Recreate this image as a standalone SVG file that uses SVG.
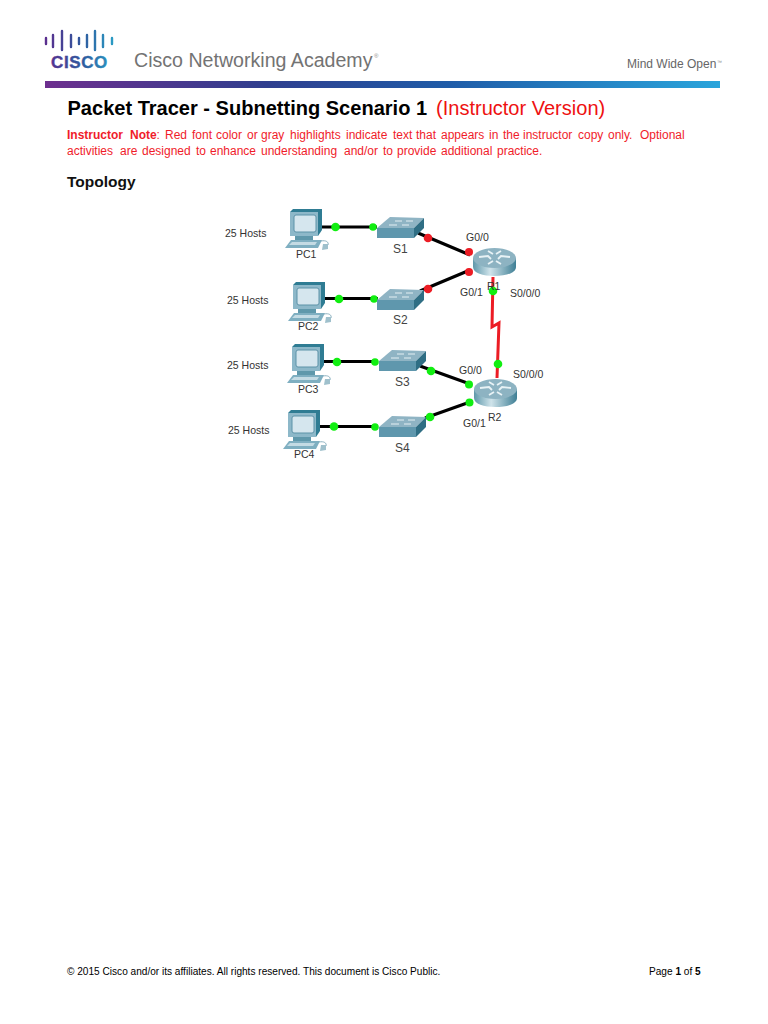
<svg xmlns="http://www.w3.org/2000/svg" width="768" height="1024" viewBox="0 0 768 1024">
<style>
text{font-family:"Liberation Sans",Arial,sans-serif}
.lab{font-size:10.500px;fill:#333}
.big{font-size:12px;fill:#444}
.note{font-size:12px;fill:#f01c2a}
.cab{stroke:#000;stroke-width:3.200;fill:none}
.ok{fill:#11ee11}
.dn{fill:#ec1c24}
</style>
<defs>
<linearGradient id="bar" x1="0" x2="1" y1="0" y2="0"><stop offset="0" stop-color="#6d2f8f"/><stop offset=".33" stop-color="#2f3f8f"/><stop offset=".6" stop-color="#1f5ca8"/><stop offset="1" stop-color="#2aa5dc"/></linearGradient>
<linearGradient id="logo" gradientUnits="userSpaceOnUse" x1="45" y1="0" x2="113" y2="0"><stop offset="0" stop-color="#5b2d8e"/><stop offset=".55" stop-color="#2f5a9e"/><stop offset="1" stop-color="#2a9bc4"/></linearGradient>
<linearGradient id="rt" x1="0" x2="1" y1="0" y2="0"><stop offset="0" stop-color="#5f98ab"/><stop offset=".4" stop-color="#cfe3ea"/><stop offset="1" stop-color="#3f7f95"/></linearGradient>
<g id="pc">
<path d="M5 3 8 0H37V21L33 27H5Z" fill="#2f7c93"/>
<path d="M5 3H33V27H5Z" fill="#8db8c9"/>
<rect x="9" y="6" width="22" height="17" rx="2" fill="#d5e6ee" stroke="#5d93a8"/>
<path d="M10 27H28V31H10Z" fill="#5f98ab"/>
<path d="M6 31H37L33 39H0Z" fill="#7fafc1"/>
<path d="M7 33H32L30 36H4Z" fill="#c4dbe4"/>
<path d="M36 32C41 31 44 33 43 36" fill="none" stroke="#8fb4c2"/>
<path d="M38 35H43V40L37 41Z" fill="#9fc0cc"/>
</g>
<g id="sw">
<path d="M0 11 13 0 47 1 37 11Z" fill="#8fb4c4"/>
<path d="M0 11H37V21H0Z" fill="#5f97ad"/>
<path d="M37 11 47 1V11L37 21Z" fill="#2f6e84"/>
<path d="M12 8H20M29 4H36M18 4H25M25 8H32" stroke="#e3eff3" stroke-width="1"/>
</g>
<g id="rtr">
<path d="M0 10V19C0 25 10 28 21.500 28S43 25 43 19V10Z" fill="url(#rt)"/>
<ellipse cx="21.500" cy="10" rx="21.500" ry="10" fill="#8db3c2"/>
<path d="M6 9 15 8 18 11M37 9 28 8 25 11M15 3 20 6M28 3 23 6M15 16 20 13M28 16 23 13" stroke="#e8f2f5" stroke-width="1.800" fill="none"/>
</g>
</defs>
<rect width="768" height="1024" fill="#fff"/>
<g id="header">
<path d="M46 38V44M53 35V47M62 31V50M71 35V47M79 38V44M87 35V47M95 31V50M103 35V47M112 38V44" stroke="url(#logo)" stroke-width="2.400" stroke-linecap="round" fill="none"/>
<text x="51" y="67.500" font-size="17" font-weight="bold" letter-spacing=".6" stroke="url(#logo)" stroke-width=".4" fill="url(#logo)">CISCO</text>
<text x="134" y="67" font-size="19.600" fill="#737373">Cisco Networking Academy</text>
<text x="374" y="58" font-size="6" fill="#8a8a8a">®</text>
<text x="627" y="68" font-size="12" fill="#666">Mind Wide Open</text>
<text x="717" y="64" font-size="5" fill="#888">™</text>
<rect x="45" y="81" width="675" height="7" fill="url(#bar)"/>
</g>
<g id="title-block">
<text x="67.500" y="115" font-size="20.050" font-weight="bold" fill="#000">Packet Tracer - Subnetting Scenario 1 <tspan x="436" font-weight="normal" fill="#ee1111">(Instructor Version)</tspan></text>
<text y="139" class="note"><tspan x="67" font-weight="bold">Instructor</tspan> <tspan x="130" font-weight="bold">Note</tspan><tspan x="156.500">:</tspan> <tspan x="165">Red</tspan> <tspan x="192">font</tspan> <tspan x="216">color</tspan> <tspan x="247">or</tspan> <tspan x="261">gray</tspan> <tspan x="290">highlights</tspan> <tspan x="346">indicate</tspan> <tspan x="393">text</tspan> <tspan x="416">that</tspan> <tspan x="441">appears</tspan> <tspan x="489">in</tspan> <tspan x="503">the</tspan> <tspan x="523">instructor</tspan> <tspan x="578">copy</tspan> <tspan x="608">only.</tspan> <tspan x="640">Optional</tspan></text>
<text y="155" class="note"><tspan x="67">activities</tspan> <tspan x="120">are</tspan> <tspan x="142">designed</tspan> <tspan x="196">to</tspan> <tspan x="210">enhance</tspan> <tspan x="261">understanding</tspan> <tspan x="344">and/or</tspan> <tspan x="383">to</tspan> <tspan x="397">provide</tspan> <tspan x="441">additional</tspan> <tspan x="497">practice.</tspan></text>
<text x="67" y="187" font-size="15.500" font-weight="bold" fill="#111">Topology</text>
</g>
<g id="connectors">
<path class="cab" d="M320 227H377M323 298.500H378M323 361.500H378M318 426.500H378M418 233 470 255M420 291 470 270M420 366 470 384M425 418 470 402"/>
<path d="M493 277 492 327 499 323 497 378" fill="none" stroke="#ec1c24" stroke-width="3"/>
<g class="ok">
<circle cx="335.500" cy="227" r="4.300"/><circle cx="373" cy="227" r="3.800"/>
<circle cx="339" cy="299" r="4.300"/><circle cx="374" cy="299" r="3.800"/>
<circle cx="337" cy="362" r="4.300"/><circle cx="375" cy="362" r="3.800"/>
<circle cx="334" cy="426.500" r="4.300"/><circle cx="375" cy="427" r="3.800"/>
<circle cx="431" cy="371" r="4.300"/><circle cx="469" cy="384.500" r="4"/>
<circle cx="430" cy="417" r="4.300"/><circle cx="469.500" cy="402.500" r="4"/>
<circle cx="493" cy="291" r="4.300"/><circle cx="498" cy="364" r="4.300"/>
</g>
<g class="dn">
<circle cx="428" cy="238" r="4.300"/><circle cx="469" cy="252" r="4"/>
<circle cx="428" cy="289" r="4.300"/><circle cx="469" cy="272" r="4"/>
</g>
</g>
<g id="PC1"><use href="#pc" x="285" y="209"/><text class="lab" x="296" y="258">PC1</text></g>
<g id="PC2"><use href="#pc" x="288" y="282"/><text class="lab" x="298" y="330">PC2</text></g>
<g id="PC3"><use href="#pc" x="287" y="344"/><text class="lab" x="298" y="393">PC3</text></g>
<g id="PC4"><use href="#pc" x="283" y="410"/><text class="lab" x="294" y="458">PC4</text></g>
<g id="S1"><use href="#sw" x="377" y="217"/><text class="big" x="393" y="253">S1</text></g>
<g id="S2"><use href="#sw" x="377" y="289"/><text class="big" x="393" y="324">S2</text></g>
<g id="S3"><use href="#sw" x="379" y="350"/><text class="big" x="395" y="386">S3</text></g>
<g id="S4"><use href="#sw" x="379" y="416"/><text class="big" x="395" y="452">S4</text></g>
<g id="R1"><use href="#rtr" x="473" y="248"/><text class="lab" x="487" y="290">R1</text></g>
<g id="R2"><use href="#rtr" x="474" y="379"/><text class="lab" x="488" y="421">R2</text></g>
<g id="labels">
<text class="lab" x="225" y="237">25 Hosts</text>
<text class="lab" x="227" y="304">25 Hosts</text>
<text class="lab" x="227" y="369">25 Hosts</text>
<text class="lab" x="228" y="434">25 Hosts</text>
<text class="lab" x="466" y="241">G0/0</text>
<text class="lab" x="460" y="296">G0/1</text>
<text class="lab" x="510" y="297">S0/0/0</text>
<text class="lab" x="459" y="374">G0/0</text>
<text class="lab" x="513" y="378">S0/0/0</text>
<text class="lab" x="463" y="427">G0/1</text>
</g>
<g id="footer">
<text x="67" y="975" font-size="10.100" fill="#000">© 2015 Cisco and/or its affiliates. All rights reserved. This document is Cisco Public.</text>
<text x="649" y="975" font-size="10.100" fill="#000">Page <tspan font-weight="bold">1</tspan> of <tspan font-weight="bold">5</tspan></text>
</g>
</svg>
